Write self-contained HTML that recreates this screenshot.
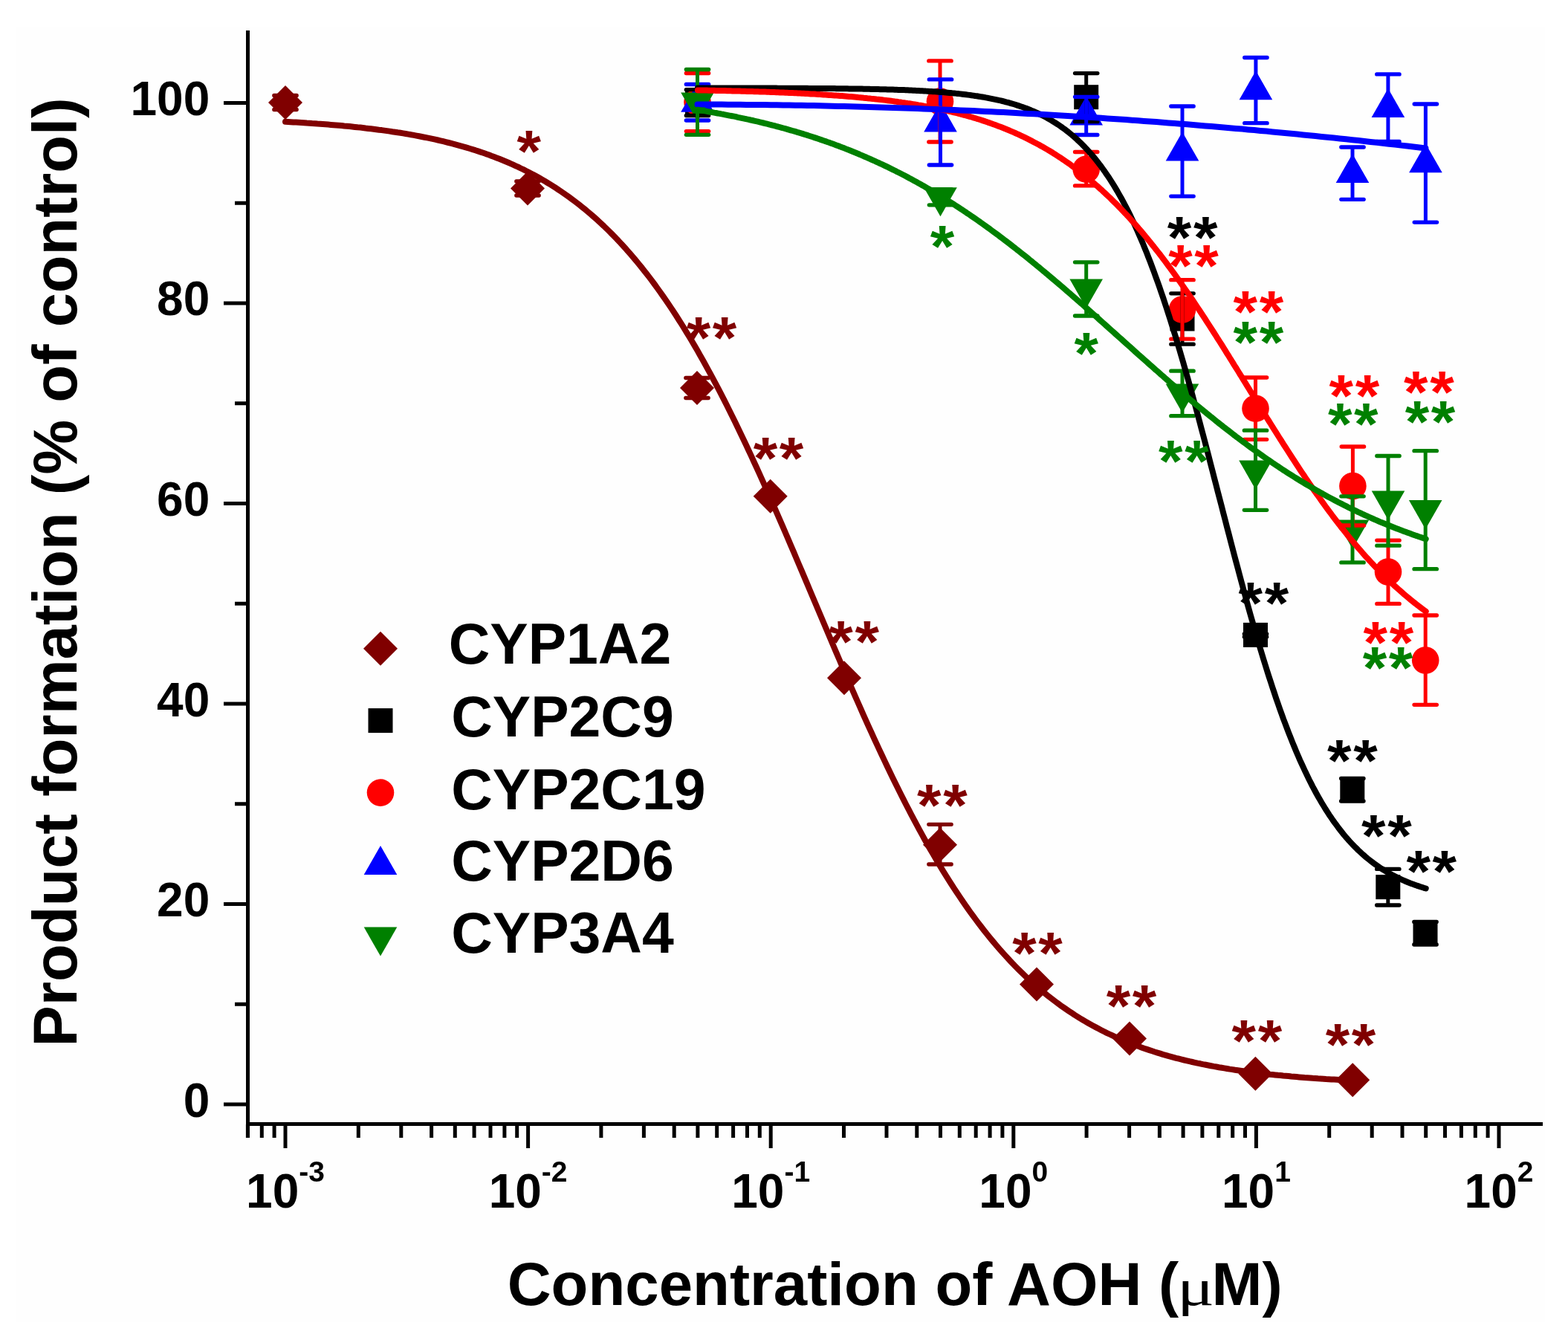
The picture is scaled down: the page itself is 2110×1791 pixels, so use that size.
<!DOCTYPE html><html><head><meta charset="utf-8"><style>html,body{margin:0;padding:0;background:#fff;}svg{display:block;}</style></head><body>
<svg width="2110" height="1791" viewBox="0 0 2110 1791" font-family='"Liberation Sans", Arial, sans-serif'>
<rect width="2110" height="1791" fill="#ffffff"/><rect x="21" y="37" width="2058" height="1742" fill="#fefefe"/>
<path d="M333.5 41V1531M331 1512.5H2076" stroke="#000" stroke-width="5" fill="none"/>
<path d="M301 1486.0H333M301 1216.5H333M301 947.0H333M301 677.4H333M301 407.9H333M301 138.4H333M316 1351.2H333M316 1081.7H333M316 812.2H333M316 542.7H333M316 273.2H333M384.0 1513V1545M482.3 1513V1531M539.8 1513V1531M580.6 1513V1531M612.3 1513V1531M638.1 1513V1531M660.0 1513V1531M678.9 1513V1531M695.7 1513V1531M710.6 1513V1545M808.9 1513V1531M866.4 1513V1531M907.2 1513V1531M938.9 1513V1531M964.7 1513V1531M986.6 1513V1531M1005.5 1513V1531M1022.3 1513V1531M1037.2 1513V1545M1135.5 1513V1531M1193.0 1513V1531M1233.8 1513V1531M1265.5 1513V1531M1291.3 1513V1531M1313.2 1513V1531M1332.1 1513V1531M1348.9 1513V1531M1363.8 1513V1545M1462.1 1513V1531M1519.6 1513V1531M1560.4 1513V1531M1592.1 1513V1531M1617.9 1513V1531M1639.8 1513V1531M1658.7 1513V1531M1675.5 1513V1531M1690.4 1513V1545M1788.7 1513V1531M1846.2 1513V1531M1887.0 1513V1531M1918.7 1513V1531M1944.5 1513V1531M1966.4 1513V1531M1985.3 1513V1531M2002.1 1513V1531M2017.0 1513V1545M333.4 1513V1531M352.3 1513V1531M369.1 1513V1531" stroke="#000" stroke-width="5" fill="none"/>
<text x="282.3" y="1502.5" font-size="64" font-weight="bold" text-anchor="end">0</text>
<text x="282.3" y="1233.0" font-size="64" font-weight="bold" text-anchor="end">20</text>
<text x="282.3" y="963.5" font-size="64" font-weight="bold" text-anchor="end">40</text>
<text x="282.3" y="693.9" font-size="64" font-weight="bold" text-anchor="end">60</text>
<text x="282.3" y="424.4" font-size="64" font-weight="bold" text-anchor="end">80</text>
<text x="282.3" y="154.9" font-size="64" font-weight="bold" text-anchor="end">100</text>
<text x="384.0" y="1625" font-size="64" font-weight="bold" text-anchor="middle">10<tspan font-size="39" dy="-35">-3</tspan></text>
<text x="710.6" y="1625" font-size="64" font-weight="bold" text-anchor="middle">10<tspan font-size="39" dy="-35">-2</tspan></text>
<text x="1037.2" y="1625" font-size="64" font-weight="bold" text-anchor="middle">10<tspan font-size="39" dy="-35">-1</tspan></text>
<text x="1363.8" y="1625" font-size="64" font-weight="bold" text-anchor="middle">10<tspan font-size="39" dy="-35">0</tspan></text>
<text x="1690.4" y="1625" font-size="64" font-weight="bold" text-anchor="middle">10<tspan font-size="39" dy="-35">1</tspan></text>
<text x="2017.0" y="1625" font-size="64" font-weight="bold" text-anchor="middle">10<tspan font-size="39" dy="-35">2</tspan></text>
<text transform="translate(103 1403) rotate(-90)" x="-5.6" y="0" font-size="83" font-weight="bold">Product formation (% of control)</text>
<text x="682.7" y="1756" font-size="81.6" font-weight="bold">Concentration of AOH (</text>
<text transform="translate(1584 1756) scale(1.14 0.86)" x="0" y="0" font-size="82" font-family='"Liberation Serif", serif'>μ</text>
<text x="1630.5" y="1756" font-size="81.6" font-weight="bold">M)</text>
<path d="M384.0 115.0L407.0 138.0L384.0 161.0L361.0 138.0Z" fill="#800000"/>
<path d="M710.0 230.5L733.0 253.5L710.0 276.5L687.0 253.5Z" fill="#800000"/>
<path d="M938.0 499.0L961.0 522.0L938.0 545.0L915.0 522.0Z" fill="#800000"/>
<path d="M1036.7 644.7L1059.7 667.7L1036.7 690.7L1013.7 667.7Z" fill="#800000"/>
<path d="M1136.0 889.2L1159.0 912.2L1136.0 935.2L1113.0 912.2Z" fill="#800000"/>
<path d="M1265.0 1113.8L1288.0 1136.8L1265.0 1159.8L1242.0 1136.8Z" fill="#800000"/>
<path d="M1395.0 1301.5L1418.0 1324.5L1395.0 1347.5L1372.0 1324.5Z" fill="#800000"/>
<path d="M1520.0 1374.6L1543.0 1397.6L1520.0 1420.6L1497.0 1397.6Z" fill="#800000"/>
<path d="M1689.4 1421.7L1712.4 1444.7L1689.4 1467.7L1666.4 1444.7Z" fill="#800000"/>
<path d="M1820.2 1430.2L1843.2 1453.2L1820.2 1476.2L1797.2 1453.2Z" fill="#800000"/>
<rect x="922.0" y="121.6" width="33.0" height="33.0" fill="#000000"/>
<rect x="1445.2" y="114.2" width="33.0" height="33.0" fill="#000000"/>
<rect x="1574.5" y="412.5" width="33.0" height="33.0" fill="#000000"/>
<rect x="1673.0" y="837.9" width="33.0" height="33.0" fill="#000000"/>
<rect x="1803.3" y="1046.4" width="33.0" height="33.0" fill="#000000"/>
<rect x="1851.3" y="1177.1" width="33.0" height="33.0" fill="#000000"/>
<rect x="1901.5" y="1239.2" width="33.0" height="33.0" fill="#000000"/>
<circle cx="938.5" cy="137.5" r="18.3" fill="#FF0000"/>
<circle cx="1265.0" cy="136.5" r="18.3" fill="#FF0000"/>
<circle cx="1461.7" cy="227.7" r="18.3" fill="#FF0000"/>
<circle cx="1591.0" cy="416.5" r="18.3" fill="#FF0000"/>
<circle cx="1689.5" cy="549.7" r="18.3" fill="#FF0000"/>
<circle cx="1820.4" cy="654.0" r="18.3" fill="#FF0000"/>
<circle cx="1868.0" cy="769.5" r="18.3" fill="#FF0000"/>
<circle cx="1918.2" cy="888.5" r="18.3" fill="#FF0000"/>
<path d="M938.5 111.8L960.8 150.8L916.2 150.8Z" fill="#0000FF"/>
<path d="M1265.5 138.4L1287.8 177.4L1243.2 177.4Z" fill="#0000FF"/>
<path d="M1461.7 129.6L1484.0 168.6L1439.4 168.6Z" fill="#0000FF"/>
<path d="M1591.0 177.5L1613.3 216.5L1568.7 216.5Z" fill="#0000FF"/>
<path d="M1689.9 95.2L1712.2 134.2L1667.6 134.2Z" fill="#0000FF"/>
<path d="M1820.0 207.0L1842.3 246.0L1797.7 246.0Z" fill="#0000FF"/>
<path d="M1867.9 119.0L1890.2 158.0L1845.6 158.0Z" fill="#0000FF"/>
<path d="M1918.4 193.2L1940.7 232.2L1896.1 232.2Z" fill="#0000FF"/>
<path d="M938.5 163.4L960.8 124.4L916.2 124.4Z" fill="#008000"/>
<path d="M1265.5 291.2L1287.8 252.2L1243.2 252.2Z" fill="#008000"/>
<path d="M1461.7 414.5L1484.0 375.5L1439.4 375.5Z" fill="#008000"/>
<path d="M1591.0 555.5L1613.3 516.5L1568.7 516.5Z" fill="#008000"/>
<path d="M1689.5 658.5L1711.8 619.5L1667.2 619.5Z" fill="#008000"/>
<path d="M1820.0 738.4L1842.3 699.4L1797.7 699.4Z" fill="#008000"/>
<path d="M1868.0 699.6L1890.3 660.6L1845.7 660.6Z" fill="#008000"/>
<path d="M1918.2 712.0L1940.5 673.0L1895.9 673.0Z" fill="#008000"/>
<path d="M384.0 128.5V147.5" stroke="#800000" stroke-width="5" fill="none"/><path d="M368.8 128.5H399.2M368.8 147.5H399.2" stroke="#800000" stroke-width="5.3" stroke-linecap="round" fill="none"/>
<path d="M710.0 244.0V263.0" stroke="#800000" stroke-width="5" fill="none"/><path d="M694.8 244.0H725.2M694.8 263.0H725.2" stroke="#800000" stroke-width="5.3" stroke-linecap="round" fill="none"/>
<path d="M938.0 508.5V535.5" stroke="#800000" stroke-width="5" fill="none"/><path d="M922.8 508.5H953.2M922.8 535.5H953.2" stroke="#800000" stroke-width="5.3" stroke-linecap="round" fill="none"/>


<path d="M1265.0 1109.3V1163.0" stroke="#800000" stroke-width="5" fill="none"/><path d="M1249.8 1109.3H1280.2M1249.8 1163.0H1280.2" stroke="#800000" stroke-width="5.3" stroke-linecap="round" fill="none"/>




<path d="M938.5 120.7V155.5" stroke="#000000" stroke-width="5" fill="none"/><path d="M923.3 120.7H953.7M923.3 155.5H953.7" stroke="#000000" stroke-width="5.3" stroke-linecap="round" fill="none"/>
<path d="M1461.7 98.6V163.7" stroke="#000000" stroke-width="5" fill="none"/><path d="M1446.5 98.6H1476.9M1446.5 163.7H1476.9" stroke="#000000" stroke-width="5.3" stroke-linecap="round" fill="none"/>
<path d="M1591.0 394.8V463.2" stroke="#000000" stroke-width="5" fill="none"/><path d="M1575.8 394.8H1606.2M1575.8 463.2H1606.2" stroke="#000000" stroke-width="5.3" stroke-linecap="round" fill="none"/>
<path d="M1689.5 853.0V857.0" stroke="#000000" stroke-width="5" fill="none"/><path d="M1674.3 853.0H1704.7M1674.3 857.0H1704.7" stroke="#000000" stroke-width="5.3" stroke-linecap="round" fill="none"/>
<path d="M1819.8 1047.5V1078.0" stroke="#000000" stroke-width="5" fill="none"/><path d="M1804.6 1047.5H1835.0M1804.6 1078.0H1835.0" stroke="#000000" stroke-width="5.3" stroke-linecap="round" fill="none"/>
<path d="M1867.8 1169.4V1218.0" stroke="#000000" stroke-width="5" fill="none"/><path d="M1852.6 1169.4H1883.0M1852.6 1218.0H1883.0" stroke="#000000" stroke-width="5.3" stroke-linecap="round" fill="none"/>
<path d="M1918.0 1240.5V1271.0" stroke="#000000" stroke-width="5" fill="none"/><path d="M1902.8 1240.5H1933.2M1902.8 1271.0H1933.2" stroke="#000000" stroke-width="5.3" stroke-linecap="round" fill="none"/>
<path d="M938.5 98.5V176.6" stroke="#FF0000" stroke-width="5" fill="none"/><path d="M923.3 98.5H953.7M923.3 176.6H953.7" stroke="#FF0000" stroke-width="5.3" stroke-linecap="round" fill="none"/>
<path d="M1265.0 81.9V191.0" stroke="#FF0000" stroke-width="5" fill="none"/><path d="M1249.8 81.9H1280.2M1249.8 191.0H1280.2" stroke="#FF0000" stroke-width="5.3" stroke-linecap="round" fill="none"/>
<path d="M1461.7 204.5V249.9" stroke="#FF0000" stroke-width="5" fill="none"/><path d="M1446.5 204.5H1476.9M1446.5 249.9H1476.9" stroke="#FF0000" stroke-width="5.3" stroke-linecap="round" fill="none"/>
<path d="M1591.0 376.7V456.2" stroke="#FF0000" stroke-width="5" fill="none"/><path d="M1575.8 376.7H1606.2M1575.8 456.2H1606.2" stroke="#FF0000" stroke-width="5.3" stroke-linecap="round" fill="none"/>
<path d="M1689.5 508.0V591.3" stroke="#FF0000" stroke-width="5" fill="none"/><path d="M1674.3 508.0H1704.7M1674.3 591.3H1704.7" stroke="#FF0000" stroke-width="5.3" stroke-linecap="round" fill="none"/>
<path d="M1820.4 601.0V707.0" stroke="#FF0000" stroke-width="5" fill="none"/><path d="M1805.2 601.0H1835.6M1805.2 707.0H1835.6" stroke="#FF0000" stroke-width="5.3" stroke-linecap="round" fill="none"/>
<path d="M1868.0 727.1V812.4" stroke="#FF0000" stroke-width="5" fill="none"/><path d="M1852.8 727.1H1883.2M1852.8 812.4H1883.2" stroke="#FF0000" stroke-width="5.3" stroke-linecap="round" fill="none"/>
<path d="M1918.2 828.0V948.3" stroke="#FF0000" stroke-width="5" fill="none"/><path d="M1903.0 828.0H1933.4M1903.0 948.3H1933.4" stroke="#FF0000" stroke-width="5.3" stroke-linecap="round" fill="none"/>
<path d="M938.5 113.5V162.0" stroke="#0000FF" stroke-width="5" fill="none"/><path d="M923.3 113.5H953.7M923.3 162.0H953.7" stroke="#0000FF" stroke-width="5.3" stroke-linecap="round" fill="none"/>
<path d="M1265.5 106.9V222.0" stroke="#0000FF" stroke-width="5" fill="none"/><path d="M1250.3 106.9H1280.7M1250.3 222.0H1280.7" stroke="#0000FF" stroke-width="5.3" stroke-linecap="round" fill="none"/>
<path d="M1461.7 130.3V181.5" stroke="#0000FF" stroke-width="5" fill="none"/><path d="M1446.5 130.3H1476.9M1446.5 181.5H1476.9" stroke="#0000FF" stroke-width="5.3" stroke-linecap="round" fill="none"/>
<path d="M1591.0 143.0V264.1" stroke="#0000FF" stroke-width="5" fill="none"/><path d="M1575.8 143.0H1606.2M1575.8 264.1H1606.2" stroke="#0000FF" stroke-width="5.3" stroke-linecap="round" fill="none"/>
<path d="M1689.9 77.5V165.7" stroke="#0000FF" stroke-width="5" fill="none"/><path d="M1674.7 77.5H1705.1M1674.7 165.7H1705.1" stroke="#0000FF" stroke-width="5.3" stroke-linecap="round" fill="none"/>
<path d="M1820.0 198.0V268.3" stroke="#0000FF" stroke-width="5" fill="none"/><path d="M1804.8 198.0H1835.2M1804.8 268.3H1835.2" stroke="#0000FF" stroke-width="5.3" stroke-linecap="round" fill="none"/>
<path d="M1867.9 99.9V190.5" stroke="#0000FF" stroke-width="5" fill="none"/><path d="M1852.7 99.9H1883.1M1852.7 190.5H1883.1" stroke="#0000FF" stroke-width="5.3" stroke-linecap="round" fill="none"/>
<path d="M1918.4 140.0V299.1" stroke="#0000FF" stroke-width="5" fill="none"/><path d="M1903.2 140.0H1933.6M1903.2 299.1H1933.6" stroke="#0000FF" stroke-width="5.3" stroke-linecap="round" fill="none"/>
<path d="M938.5 93.5V181.3" stroke="#008000" stroke-width="5" fill="none"/><path d="M923.3 93.5H953.7M923.3 181.3H953.7" stroke="#008000" stroke-width="5.3" stroke-linecap="round" fill="none"/>
<path d="M1265.5 254.6V275.8" stroke="#008000" stroke-width="5" fill="none"/><path d="M1250.3 254.6H1280.7M1250.3 275.8H1280.7" stroke="#008000" stroke-width="5.3" stroke-linecap="round" fill="none"/>
<path d="M1461.7 352.8V425.0" stroke="#008000" stroke-width="5" fill="none"/><path d="M1446.5 352.8H1476.9M1446.5 425.0H1476.9" stroke="#008000" stroke-width="5.3" stroke-linecap="round" fill="none"/>
<path d="M1591.0 499.2V559.7" stroke="#008000" stroke-width="5" fill="none"/><path d="M1575.8 499.2H1606.2M1575.8 559.7H1606.2" stroke="#008000" stroke-width="5.3" stroke-linecap="round" fill="none"/>
<path d="M1689.5 579.2V686.3" stroke="#008000" stroke-width="5" fill="none"/><path d="M1674.3 579.2H1704.7M1674.3 686.3H1704.7" stroke="#008000" stroke-width="5.3" stroke-linecap="round" fill="none"/>
<path d="M1820.0 667.8V756.9" stroke="#008000" stroke-width="5" fill="none"/><path d="M1804.8 667.8H1835.2M1804.8 756.9H1835.2" stroke="#008000" stroke-width="5.3" stroke-linecap="round" fill="none"/>
<path d="M1868.0 613.5V734.2" stroke="#008000" stroke-width="5" fill="none"/><path d="M1852.8 613.5H1883.2M1852.8 734.2H1883.2" stroke="#008000" stroke-width="5.3" stroke-linecap="round" fill="none"/>
<path d="M1918.2 606.7V765.7" stroke="#008000" stroke-width="5" fill="none"/><path d="M1903.0 606.7H1933.4M1903.0 765.7H1933.4" stroke="#008000" stroke-width="5.3" stroke-linecap="round" fill="none"/>
<path d="M384.0 163.8 L387.6 164.0 L391.2 164.2 L394.8 164.4 L398.4 164.6 L402.0 164.8 L405.6 165.0 L409.2 165.2 L412.8 165.5 L416.4 165.7 L420.0 166.0 L423.6 166.2 L427.2 166.5 L430.8 166.7 L434.4 167.0 L438.0 167.3 L441.6 167.6 L445.2 167.9 L448.8 168.2 L452.4 168.5 L456.0 168.8 L459.6 169.1 L463.2 169.5 L466.8 169.8 L470.4 170.1 L474.0 170.5 L477.6 170.9 L481.2 171.3 L484.8 171.6 L488.4 172.0 L492.0 172.5 L495.6 172.9 L499.2 173.3 L502.8 173.7 L506.4 174.2 L510.0 174.7 L513.6 175.1 L517.2 175.6 L520.8 176.1 L524.4 176.6 L528.0 177.2 L531.6 177.7 L535.2 178.3 L538.8 178.8 L542.4 179.4 L546.0 180.0 L549.6 180.6 L553.2 181.3 L556.8 181.9 L560.4 182.6 L564.0 183.3 L567.6 184.0 L571.2 184.7 L574.8 185.4 L578.4 186.1 L582.0 186.9 L585.6 187.7 L589.2 188.5 L592.8 189.3 L596.4 190.2 L600.0 191.1 L603.6 192.0 L607.2 192.9 L610.8 193.8 L614.4 194.8 L618.0 195.8 L621.6 196.8 L625.2 197.8 L628.8 198.9 L632.4 200.0 L636.0 201.1 L639.6 202.2 L643.2 203.4 L646.8 204.6 L650.4 205.8 L654.0 207.1 L657.6 208.3 L661.2 209.7 L664.8 211.0 L668.4 212.4 L672.0 213.8 L675.6 215.3 L679.2 216.8 L682.8 218.3 L686.4 219.8 L690.0 221.4 L693.6 223.1 L697.2 224.7 L700.8 226.5 L704.4 228.2 L708.0 230.0 L711.6 231.8 L715.2 233.7 L718.8 235.6 L722.4 237.6 L726.0 239.6 L729.6 241.7 L733.2 243.8 L736.8 246.0 L740.4 248.2 L744.0 250.4 L747.6 252.7 L751.2 255.1 L754.8 257.5 L758.4 260.0 L762.0 262.5 L765.6 265.1 L769.2 267.7 L772.8 270.4 L776.4 273.1 L780.0 275.9 L783.6 278.8 L787.2 281.7 L790.8 284.7 L794.4 287.8 L798.0 290.9 L801.6 294.1 L805.2 297.3 L808.8 300.7 L812.4 304.0 L816.0 307.5 L819.6 311.0 L823.2 314.6 L826.8 318.3 L830.4 322.0 L834.0 325.9 L837.6 329.8 L841.2 333.7 L844.8 337.8 L848.4 341.9 L852.0 346.1 L855.6 350.4 L859.2 354.7 L862.8 359.1 L866.4 363.7 L870.0 368.3 L873.6 372.9 L877.2 377.7 L880.8 382.5 L884.4 387.5 L888.0 392.5 L891.6 397.6 L895.2 402.8 L898.8 408.0 L902.4 413.4 L906.0 418.8 L909.6 424.3 L913.2 430.0 L916.8 435.6 L920.4 441.4 L924.0 447.3 L927.6 453.2 L931.2 459.3 L934.8 465.4 L938.4 471.6 L942.0 477.9 L945.6 484.3 L949.2 490.7 L952.8 497.3 L956.4 503.9 L960.0 510.6 L963.6 517.4 L967.2 524.2 L970.8 531.2 L974.4 538.2 L978.0 545.3 L981.6 552.5 L985.2 559.7 L988.8 567.0 L992.4 574.4 L996.0 581.9 L999.6 589.4 L1003.2 597.0 L1006.8 604.7 L1010.4 612.4 L1014.0 620.2 L1017.6 628.0 L1021.2 635.9 L1024.8 643.9 L1028.4 651.9 L1032.0 659.9 L1035.6 668.0 L1039.2 676.2 L1042.8 684.4 L1046.4 692.6 L1050.0 700.9 L1053.6 709.2 L1057.2 717.5 L1060.8 725.9 L1064.4 734.3 L1068.0 742.7 L1071.6 751.2 L1075.2 759.7 L1078.8 768.1 L1082.4 776.6 L1086.0 785.1 L1089.6 793.7 L1093.2 802.2 L1096.8 810.7 L1100.4 819.2 L1104.0 827.8 L1107.6 836.3 L1111.2 844.8 L1114.8 853.3 L1118.4 861.7 L1122.0 870.2 L1125.6 878.6 L1129.2 887.0 L1132.8 895.4 L1136.4 903.8 L1140.0 912.1 L1143.6 920.4 L1147.2 928.7 L1150.8 936.9 L1154.4 945.0 L1158.0 953.2 L1161.6 961.3 L1165.2 969.3 L1168.8 977.3 L1172.4 985.2 L1176.0 993.1 L1179.6 1000.9 L1183.2 1008.6 L1186.8 1016.3 L1190.4 1023.9 L1194.0 1031.5 L1197.6 1039.0 L1201.2 1046.4 L1204.8 1053.8 L1208.4 1061.1 L1212.0 1068.3 L1215.6 1075.4 L1219.2 1082.5 L1222.8 1089.4 L1226.4 1096.3 L1230.0 1103.2 L1233.6 1109.9 L1237.2 1116.6 L1240.8 1123.2 L1244.4 1129.7 L1248.0 1136.1 L1251.6 1142.4 L1255.2 1148.6 L1258.8 1154.8 L1262.4 1160.9 L1266.0 1166.9 L1269.6 1172.8 L1273.2 1178.6 L1276.8 1184.4 L1280.4 1190.0 L1284.0 1195.6 L1287.6 1201.0 L1291.2 1206.4 L1294.8 1211.7 L1298.4 1217.0 L1302.0 1222.1 L1305.6 1227.2 L1309.2 1232.1 L1312.8 1237.0 L1316.4 1241.8 L1320.0 1246.5 L1323.6 1251.2 L1327.2 1255.7 L1330.8 1260.2 L1334.4 1264.6 L1338.0 1268.9 L1341.6 1273.2 L1345.2 1277.3 L1348.8 1281.4 L1352.4 1285.4 L1356.0 1289.3 L1359.6 1293.2 L1363.2 1297.0 L1366.8 1300.7 L1370.4 1304.3 L1374.0 1307.9 L1377.6 1311.4 L1381.2 1314.8 L1384.8 1318.1 L1388.4 1321.4 L1392.0 1324.6 L1395.6 1327.8 L1399.2 1330.9 L1402.8 1333.9 L1406.4 1336.9 L1410.0 1339.8 L1413.6 1342.6 L1417.2 1345.4 L1420.8 1348.1 L1424.4 1350.8 L1428.0 1353.4 L1431.6 1355.9 L1435.2 1358.4 L1438.8 1360.8 L1442.4 1363.2 L1446.0 1365.6 L1449.6 1367.8 L1453.2 1370.1 L1456.8 1372.2 L1460.4 1374.4 L1464.0 1376.5 L1467.6 1378.5 L1471.2 1380.5 L1474.8 1382.4 L1478.4 1384.3 L1482.0 1386.2 L1485.6 1388.0 L1489.2 1389.8 L1492.8 1391.5 L1496.4 1393.2 L1500.0 1394.9 L1503.6 1396.5 L1507.2 1398.1 L1510.8 1399.6 L1514.4 1401.1 L1518.0 1402.6 L1521.6 1404.0 L1525.2 1405.4 L1528.8 1406.8 L1532.4 1408.1 L1536.0 1409.4 L1539.6 1410.7 L1543.2 1411.9 L1546.8 1413.1 L1550.4 1414.3 L1554.0 1415.5 L1557.6 1416.6 L1561.2 1417.7 L1564.8 1418.8 L1568.4 1419.8 L1572.0 1420.9 L1575.6 1421.8 L1579.2 1422.8 L1582.8 1423.8 L1586.4 1424.7 L1590.0 1425.6 L1593.6 1426.5 L1597.2 1427.3 L1600.8 1428.2 L1604.4 1429.0 L1608.0 1429.8 L1611.6 1430.6 L1615.2 1431.3 L1618.8 1432.1 L1622.4 1432.8 L1626.0 1433.5 L1629.6 1434.2 L1633.2 1434.9 L1636.8 1435.5 L1640.4 1436.2 L1644.0 1436.8 L1647.6 1437.4 L1651.2 1438.0 L1654.8 1438.6 L1658.4 1439.1 L1662.0 1439.7 L1665.6 1440.2 L1669.2 1440.7 L1672.8 1441.2 L1676.4 1441.7 L1680.0 1442.2 L1683.6 1442.7 L1687.2 1443.1 L1690.8 1443.6 L1694.4 1444.0 L1698.0 1444.4 L1701.6 1444.9 L1705.2 1445.3 L1708.8 1445.7 L1712.4 1446.0 L1716.0 1446.4 L1719.6 1446.8 L1723.2 1447.1 L1726.8 1447.5 L1730.4 1447.8 L1734.0 1448.1 L1737.6 1448.5 L1741.2 1448.8 L1744.8 1449.1 L1748.4 1449.4 L1752.0 1449.7 L1755.6 1450.0 L1759.2 1450.2 L1762.8 1450.5 L1766.4 1450.8 L1770.0 1451.0 L1773.6 1451.3 L1777.2 1451.5 L1780.8 1451.7 L1784.4 1452.0 L1788.0 1452.2 L1791.6 1452.4 L1795.2 1452.6 L1798.8 1452.8 L1802.4 1453.0 L1806.0 1453.2 L1809.6 1453.4 L1813.2 1453.6 L1816.8 1453.8 L1820.4 1454.0" stroke="#800000" stroke-width="8" fill="none" stroke-linejoin="round" stroke-linecap="round"/>
<path d="M938.9 118.5 L941.3 118.5 L943.8 118.5 L946.3 118.5 L948.7 118.5 L951.2 118.5 L953.6 118.5 L956.1 118.5 L958.5 118.5 L961.0 118.5 L963.4 118.5 L965.9 118.5 L968.4 118.5 L970.8 118.5 L973.3 118.5 L975.7 118.5 L978.2 118.5 L980.6 118.5 L983.1 118.5 L985.5 118.5 L988.0 118.5 L990.5 118.5 L992.9 118.5 L995.4 118.5 L997.8 118.5 L1000.3 118.5 L1002.7 118.5 L1005.2 118.5 L1007.6 118.5 L1010.1 118.6 L1012.6 118.6 L1015.0 118.6 L1017.5 118.6 L1019.9 118.6 L1022.4 118.6 L1024.8 118.6 L1027.3 118.6 L1029.7 118.6 L1032.2 118.6 L1034.7 118.6 L1037.1 118.6 L1039.6 118.6 L1042.0 118.6 L1044.5 118.6 L1046.9 118.7 L1049.4 118.7 L1051.8 118.7 L1054.3 118.7 L1056.8 118.7 L1059.2 118.7 L1061.7 118.7 L1064.1 118.7 L1066.6 118.7 L1069.0 118.7 L1071.5 118.8 L1073.9 118.8 L1076.4 118.8 L1078.9 118.8 L1081.3 118.8 L1083.8 118.8 L1086.2 118.8 L1088.7 118.9 L1091.1 118.9 L1093.6 118.9 L1096.0 118.9 L1098.5 118.9 L1101.0 118.9 L1103.4 119.0 L1105.9 119.0 L1108.3 119.0 L1110.8 119.0 L1113.2 119.0 L1115.7 119.1 L1118.1 119.1 L1120.6 119.1 L1123.1 119.1 L1125.5 119.2 L1128.0 119.2 L1130.4 119.2 L1132.9 119.2 L1135.3 119.3 L1137.8 119.3 L1140.2 119.3 L1142.7 119.4 L1145.2 119.4 L1147.6 119.4 L1150.1 119.5 L1152.5 119.5 L1155.0 119.6 L1157.4 119.6 L1159.9 119.6 L1162.3 119.7 L1164.8 119.7 L1167.3 119.8 L1169.7 119.8 L1172.2 119.9 L1174.6 119.9 L1177.1 120.0 L1179.5 120.0 L1182.0 120.1 L1184.4 120.2 L1186.9 120.2 L1189.4 120.3 L1191.8 120.3 L1194.3 120.4 L1196.7 120.5 L1199.2 120.6 L1201.6 120.6 L1204.1 120.7 L1206.5 120.8 L1209.0 120.9 L1211.5 121.0 L1213.9 121.1 L1216.4 121.1 L1218.8 121.2 L1221.3 121.3 L1223.7 121.5 L1226.2 121.6 L1228.6 121.7 L1231.1 121.8 L1233.6 121.9 L1236.0 122.0 L1238.5 122.2 L1240.9 122.3 L1243.4 122.4 L1245.8 122.6 L1248.3 122.7 L1250.7 122.9 L1253.2 123.0 L1255.7 123.2 L1258.1 123.3 L1260.6 123.5 L1263.0 123.7 L1265.5 123.9 L1267.9 124.1 L1270.4 124.3 L1272.9 124.5 L1275.3 124.7 L1277.8 124.9 L1280.2 125.1 L1282.7 125.4 L1285.1 125.6 L1287.6 125.9 L1290.0 126.1 L1292.5 126.4 L1295.0 126.7 L1297.4 127.0 L1299.9 127.3 L1302.3 127.6 L1304.8 127.9 L1307.2 128.3 L1309.7 128.6 L1312.1 129.0 L1314.6 129.3 L1317.1 129.7 L1319.5 130.1 L1322.0 130.5 L1324.4 130.9 L1326.9 131.4 L1329.3 131.8 L1331.8 132.3 L1334.2 132.8 L1336.7 133.3 L1339.2 133.8 L1341.6 134.3 L1344.1 134.9 L1346.5 135.4 L1349.0 136.0 L1351.4 136.6 L1353.9 137.3 L1356.3 137.9 L1358.8 138.6 L1361.3 139.3 L1363.7 140.0 L1366.2 140.8 L1368.6 141.6 L1371.1 142.4 L1373.5 143.2 L1376.0 144.0 L1378.4 144.9 L1380.9 145.8 L1383.4 146.8 L1385.8 147.7 L1388.3 148.8 L1390.7 149.8 L1393.2 150.9 L1395.6 152.0 L1398.1 153.1 L1400.5 154.3 L1403.0 155.5 L1405.5 156.8 L1407.9 158.1 L1410.4 159.5 L1412.8 160.9 L1415.3 162.3 L1417.7 163.8 L1420.2 165.3 L1422.6 166.9 L1425.1 168.5 L1427.6 170.2 L1430.0 172.0 L1432.5 173.7 L1434.9 175.6 L1437.4 177.5 L1439.8 179.5 L1442.3 181.5 L1444.7 183.6 L1447.2 185.8 L1449.7 188.0 L1452.1 190.3 L1454.6 192.7 L1457.0 195.1 L1459.5 197.6 L1461.9 200.2 L1464.4 202.9 L1466.8 205.6 L1469.3 208.4 L1471.8 211.3 L1474.2 214.3 L1476.7 217.4 L1479.1 220.6 L1481.6 223.8 L1484.0 227.2 L1486.5 230.6 L1488.9 234.2 L1491.4 237.8 L1493.9 241.6 L1496.3 245.4 L1498.8 249.4 L1501.2 253.4 L1503.7 257.6 L1506.1 261.9 L1508.6 266.2 L1511.0 270.7 L1513.5 275.3 L1516.0 280.1 L1518.4 284.9 L1520.9 289.9 L1523.3 294.9 L1525.8 300.1 L1528.2 305.5 L1530.7 310.9 L1533.1 316.5 L1535.6 322.2 L1538.1 328.0 L1540.5 333.9 L1543.0 340.0 L1545.4 346.2 L1547.9 352.5 L1550.3 359.0 L1552.8 365.6 L1555.2 372.3 L1557.7 379.1 L1560.2 386.1 L1562.6 393.2 L1565.1 400.4 L1567.5 407.7 L1570.0 415.2 L1572.4 422.7 L1574.9 430.4 L1577.3 438.2 L1579.8 446.2 L1582.3 454.2 L1584.7 462.3 L1587.2 470.6 L1589.6 478.9 L1592.1 487.4 L1594.5 495.9 L1597.0 504.6 L1599.5 513.3 L1601.9 522.1 L1604.4 531.0 L1606.8 540.0 L1609.3 549.0 L1611.7 558.1 L1614.2 567.3 L1616.6 576.6 L1619.1 585.8 L1621.6 595.2 L1624.0 604.6 L1626.5 614.0 L1628.9 623.4 L1631.4 632.9 L1633.8 642.4 L1636.3 651.9 L1638.7 661.4 L1641.2 670.9 L1643.7 680.5 L1646.1 690.0 L1648.6 699.5 L1651.0 709.0 L1653.5 718.4 L1655.9 727.8 L1658.4 737.2 L1660.8 746.6 L1663.3 755.9 L1665.8 765.1 L1668.2 774.3 L1670.7 783.5 L1673.1 792.5 L1675.6 801.5 L1678.0 810.4 L1680.5 819.3 L1682.9 828.0 L1685.4 836.7 L1687.9 845.3 L1690.3 853.8 L1692.8 862.1 L1695.2 870.4 L1697.7 878.6 L1700.1 886.6 L1702.6 894.6 L1705.0 902.4 L1707.5 910.2 L1710.0 917.8 L1712.4 925.2 L1714.9 932.6 L1717.3 939.9 L1719.8 947.0 L1722.2 954.0 L1724.7 960.8 L1727.1 967.6 L1729.6 974.2 L1732.1 980.7 L1734.5 987.1 L1737.0 993.3 L1739.4 999.4 L1741.9 1005.4 L1744.3 1011.2 L1746.8 1017.0 L1749.2 1022.6 L1751.7 1028.0 L1754.2 1033.4 L1756.6 1038.6 L1759.1 1043.7 L1761.5 1048.7 L1764.0 1053.6 L1766.4 1058.4 L1768.9 1063.0 L1771.3 1067.5 L1773.8 1072.0 L1776.3 1076.3 L1778.7 1080.4 L1781.2 1084.5 L1783.6 1088.5 L1786.1 1092.4 L1788.5 1096.2 L1791.0 1099.8 L1793.4 1103.4 L1795.9 1106.9 L1798.4 1110.2 L1800.8 1113.5 L1803.3 1116.7 L1805.7 1119.8 L1808.2 1122.9 L1810.6 1125.8 L1813.1 1128.6 L1815.5 1131.4 L1818.0 1134.1 L1820.5 1136.7 L1822.9 1139.2 L1825.4 1141.7 L1827.8 1144.1 L1830.3 1146.4 L1832.7 1148.6 L1835.2 1150.8 L1837.6 1152.9 L1840.1 1155.0 L1842.6 1157.0 L1845.0 1158.9 L1847.5 1160.8 L1849.9 1162.6 L1852.4 1164.3 L1854.8 1166.0 L1857.3 1167.7 L1859.7 1169.3 L1862.2 1170.8 L1864.7 1172.3 L1867.1 1173.8 L1869.6 1175.2 L1872.0 1176.5 L1874.5 1177.9 L1876.9 1179.1 L1879.4 1180.4 L1881.8 1181.6 L1884.3 1182.7 L1886.8 1183.8 L1889.2 1184.9 L1891.7 1186.0 L1894.1 1187.0 L1896.6 1188.0 L1899.0 1188.9 L1901.5 1189.8 L1903.9 1190.7 L1906.4 1191.6 L1908.9 1192.4 L1911.3 1193.2 L1913.8 1194.0 L1916.2 1194.8 L1918.7 1195.5" stroke="#000000" stroke-width="8" fill="none" stroke-linejoin="round" stroke-linecap="round"/>
<path d="M938.9 121.4 L941.3 121.5 L943.8 121.5 L946.3 121.6 L948.7 121.6 L951.2 121.6 L953.6 121.7 L956.1 121.7 L958.5 121.8 L961.0 121.8 L963.4 121.9 L965.9 121.9 L968.4 122.0 L970.8 122.0 L973.3 122.1 L975.7 122.1 L978.2 122.2 L980.6 122.3 L983.1 122.3 L985.5 122.4 L988.0 122.4 L990.5 122.5 L992.9 122.6 L995.4 122.6 L997.8 122.7 L1000.3 122.7 L1002.7 122.8 L1005.2 122.9 L1007.6 123.0 L1010.1 123.0 L1012.6 123.1 L1015.0 123.2 L1017.5 123.2 L1019.9 123.3 L1022.4 123.4 L1024.8 123.5 L1027.3 123.6 L1029.7 123.6 L1032.2 123.7 L1034.7 123.8 L1037.1 123.9 L1039.6 124.0 L1042.0 124.1 L1044.5 124.2 L1046.9 124.3 L1049.4 124.4 L1051.8 124.5 L1054.3 124.6 L1056.8 124.7 L1059.2 124.8 L1061.7 124.9 L1064.1 125.0 L1066.6 125.1 L1069.0 125.2 L1071.5 125.3 L1073.9 125.5 L1076.4 125.6 L1078.9 125.7 L1081.3 125.8 L1083.8 126.0 L1086.2 126.1 L1088.7 126.2 L1091.1 126.4 L1093.6 126.5 L1096.0 126.6 L1098.5 126.8 L1101.0 126.9 L1103.4 127.1 L1105.9 127.2 L1108.3 127.4 L1110.8 127.5 L1113.2 127.7 L1115.7 127.9 L1118.1 128.0 L1120.6 128.2 L1123.1 128.4 L1125.5 128.6 L1128.0 128.7 L1130.4 128.9 L1132.9 129.1 L1135.3 129.3 L1137.8 129.5 L1140.2 129.7 L1142.7 129.9 L1145.2 130.1 L1147.6 130.3 L1150.1 130.5 L1152.5 130.7 L1155.0 131.0 L1157.4 131.2 L1159.9 131.4 L1162.3 131.7 L1164.8 131.9 L1167.3 132.2 L1169.7 132.4 L1172.2 132.7 L1174.6 132.9 L1177.1 133.2 L1179.5 133.5 L1182.0 133.7 L1184.4 134.0 L1186.9 134.3 L1189.4 134.6 L1191.8 134.9 L1194.3 135.2 L1196.7 135.5 L1199.2 135.8 L1201.6 136.1 L1204.1 136.5 L1206.5 136.8 L1209.0 137.2 L1211.5 137.5 L1213.9 137.9 L1216.4 138.2 L1218.8 138.6 L1221.3 139.0 L1223.7 139.3 L1226.2 139.7 L1228.6 140.1 L1231.1 140.5 L1233.6 140.9 L1236.0 141.4 L1238.5 141.8 L1240.9 142.2 L1243.4 142.7 L1245.8 143.1 L1248.3 143.6 L1250.7 144.0 L1253.2 144.5 L1255.7 145.0 L1258.1 145.5 L1260.6 146.0 L1263.0 146.5 L1265.5 147.0 L1267.9 147.6 L1270.4 148.1 L1272.9 148.7 L1275.3 149.2 L1277.8 149.8 L1280.2 150.4 L1282.7 151.0 L1285.1 151.6 L1287.6 152.2 L1290.0 152.8 L1292.5 153.5 L1295.0 154.1 L1297.4 154.8 L1299.9 155.4 L1302.3 156.1 L1304.8 156.8 L1307.2 157.5 L1309.7 158.3 L1312.1 159.0 L1314.6 159.8 L1317.1 160.5 L1319.5 161.3 L1322.0 162.1 L1324.4 162.9 L1326.9 163.7 L1329.3 164.6 L1331.8 165.4 L1334.2 166.3 L1336.7 167.2 L1339.2 168.1 L1341.6 169.0 L1344.1 169.9 L1346.5 170.8 L1349.0 171.8 L1351.4 172.8 L1353.9 173.8 L1356.3 174.8 L1358.8 175.8 L1361.3 176.9 L1363.7 177.9 L1366.2 179.0 L1368.6 180.1 L1371.1 181.2 L1373.5 182.4 L1376.0 183.5 L1378.4 184.7 L1380.9 185.9 L1383.4 187.1 L1385.8 188.3 L1388.3 189.6 L1390.7 190.9 L1393.2 192.2 L1395.6 193.5 L1398.1 194.8 L1400.5 196.2 L1403.0 197.6 L1405.5 199.0 L1407.9 200.4 L1410.4 201.9 L1412.8 203.3 L1415.3 204.8 L1417.7 206.3 L1420.2 207.9 L1422.6 209.5 L1425.1 211.1 L1427.6 212.7 L1430.0 214.3 L1432.5 216.0 L1434.9 217.7 L1437.4 219.4 L1439.8 221.1 L1442.3 222.9 L1444.7 224.7 L1447.2 226.5 L1449.7 228.4 L1452.1 230.3 L1454.6 232.2 L1457.0 234.1 L1459.5 236.0 L1461.9 238.0 L1464.4 240.0 L1466.8 242.1 L1469.3 244.2 L1471.8 246.3 L1474.2 248.4 L1476.7 250.5 L1479.1 252.7 L1481.6 254.9 L1484.0 257.2 L1486.5 259.4 L1488.9 261.8 L1491.4 264.1 L1493.9 266.4 L1496.3 268.8 L1498.8 271.3 L1501.2 273.7 L1503.7 276.2 L1506.1 278.7 L1508.6 281.2 L1511.0 283.8 L1513.5 286.4 L1516.0 289.0 L1518.4 291.7 L1520.9 294.4 L1523.3 297.1 L1525.8 299.9 L1528.2 302.7 L1530.7 305.5 L1533.1 308.3 L1535.6 311.2 L1538.1 314.1 L1540.5 317.0 L1543.0 320.0 L1545.4 323.0 L1547.9 326.0 L1550.3 329.1 L1552.8 332.1 L1555.2 335.2 L1557.7 338.4 L1560.2 341.5 L1562.6 344.7 L1565.1 348.0 L1567.5 351.2 L1570.0 354.5 L1572.4 357.8 L1574.9 361.1 L1577.3 364.5 L1579.8 367.9 L1582.3 371.3 L1584.7 374.7 L1587.2 378.2 L1589.6 381.7 L1592.1 385.2 L1594.5 388.7 L1597.0 392.3 L1599.5 395.8 L1601.9 399.4 L1604.4 403.1 L1606.8 406.7 L1609.3 410.4 L1611.7 414.1 L1614.2 417.8 L1616.6 421.5 L1619.1 425.2 L1621.6 429.0 L1624.0 432.8 L1626.5 436.6 L1628.9 440.4 L1631.4 444.2 L1633.8 448.0 L1636.3 451.9 L1638.7 455.8 L1641.2 459.6 L1643.7 463.5 L1646.1 467.4 L1648.6 471.4 L1651.0 475.3 L1653.5 479.2 L1655.9 483.2 L1658.4 487.1 L1660.8 491.1 L1663.3 495.0 L1665.8 499.0 L1668.2 503.0 L1670.7 506.9 L1673.1 510.9 L1675.6 514.9 L1678.0 518.9 L1680.5 522.9 L1682.9 526.9 L1685.4 530.8 L1687.9 534.8 L1690.3 538.8 L1692.8 542.8 L1695.2 546.8 L1697.7 550.7 L1700.1 554.7 L1702.6 558.6 L1705.0 562.6 L1707.5 566.5 L1710.0 570.5 L1712.4 574.4 L1714.9 578.3 L1717.3 582.2 L1719.8 586.1 L1722.2 590.0 L1724.7 593.8 L1727.1 597.7 L1729.6 601.5 L1732.1 605.4 L1734.5 609.2 L1737.0 613.0 L1739.4 616.7 L1741.9 620.5 L1744.3 624.2 L1746.8 628.0 L1749.2 631.7 L1751.7 635.4 L1754.2 639.0 L1756.6 642.7 L1759.1 646.3 L1761.5 649.9 L1764.0 653.5 L1766.4 657.0 L1768.9 660.6 L1771.3 664.1 L1773.8 667.5 L1776.3 671.0 L1778.7 674.4 L1781.2 677.8 L1783.6 681.2 L1786.1 684.6 L1788.5 687.9 L1791.0 691.2 L1793.4 694.5 L1795.9 697.7 L1798.4 701.0 L1800.8 704.2 L1803.3 707.3 L1805.7 710.5 L1808.2 713.6 L1810.6 716.6 L1813.1 719.7 L1815.5 722.7 L1818.0 725.7 L1820.5 728.7 L1822.9 731.6 L1825.4 734.5 L1827.8 737.4 L1830.3 740.2 L1832.7 743.0 L1835.2 745.8 L1837.6 748.6 L1840.1 751.3 L1842.6 754.0 L1845.0 756.6 L1847.5 759.3 L1849.9 761.9 L1852.4 764.4 L1854.8 767.0 L1857.3 769.5 L1859.7 772.0 L1862.2 774.4 L1864.7 776.8 L1867.1 779.2 L1869.6 781.6 L1872.0 783.9 L1874.5 786.2 L1876.9 788.5 L1879.4 790.7 L1881.8 792.9 L1884.3 795.1 L1886.8 797.3 L1889.2 799.4 L1891.7 801.5 L1894.1 803.5 L1896.6 805.6 L1899.0 807.6 L1901.5 809.6 L1903.9 811.5 L1906.4 813.5 L1908.9 815.4 L1911.3 817.2 L1913.8 819.1 L1916.2 820.9 L1918.7 822.7" stroke="#FF0000" stroke-width="8" fill="none" stroke-linejoin="round" stroke-linecap="round"/>
<path d="M938.5 140.6 L946.7 140.6 L955.0 140.6 L963.2 140.6 L971.4 140.6 L979.7 140.7 L987.9 140.7 L996.1 140.8 L1004.4 140.9 L1012.6 140.9 L1020.8 141.0 L1029.1 141.1 L1037.3 141.2 L1045.5 141.3 L1053.8 141.4 L1062.0 141.6 L1070.3 141.7 L1078.5 141.8 L1086.7 142.0 L1095.0 142.1 L1103.2 142.3 L1111.4 142.5 L1119.7 142.7 L1127.9 142.9 L1136.1 143.1 L1144.4 143.3 L1152.6 143.5 L1160.8 143.7 L1169.1 143.9 L1177.3 144.2 L1185.5 144.4 L1193.8 144.7 L1202.0 145.0 L1210.2 145.2 L1218.5 145.5 L1226.7 145.8 L1234.9 146.1 L1243.2 146.4 L1251.4 146.7 L1259.6 147.0 L1267.9 147.4 L1276.1 147.7 L1284.3 148.1 L1292.6 148.4 L1300.8 148.8 L1309.1 149.1 L1317.3 149.5 L1325.5 149.9 L1333.8 150.3 L1342.0 150.7 L1350.2 151.1 L1358.5 151.5 L1366.7 152.0 L1374.9 152.4 L1383.2 152.9 L1391.4 153.3 L1399.6 153.8 L1407.9 154.2 L1416.1 154.7 L1424.3 155.2 L1432.6 155.7 L1440.8 156.2 L1449.0 156.7 L1457.3 157.2 L1465.5 157.8 L1473.7 158.3 L1482.0 158.8 L1490.2 159.4 L1498.4 160.0 L1506.7 160.5 L1514.9 161.1 L1523.1 161.7 L1531.4 162.3 L1539.6 162.9 L1547.8 163.5 L1556.1 164.1 L1564.3 164.7 L1572.6 165.4 L1580.8 166.0 L1589.0 166.7 L1597.3 167.3 L1605.5 168.0 L1613.7 168.7 L1622.0 169.4 L1630.2 170.0 L1638.4 170.7 L1646.7 171.5 L1654.9 172.2 L1663.1 172.9 L1671.4 173.6 L1679.6 174.4 L1687.8 175.1 L1696.1 175.9 L1704.3 176.6 L1712.5 177.4 L1720.8 178.2 L1729.0 179.0 L1737.2 179.8 L1745.5 180.6 L1753.7 181.4 L1761.9 182.2 L1770.2 183.1 L1778.4 183.9 L1786.6 184.8 L1794.9 185.6 L1803.1 186.5 L1811.4 187.3 L1819.6 188.2 L1827.8 189.1 L1836.1 190.0 L1844.3 190.9 L1852.5 191.8 L1860.8 192.8 L1869.0 193.7 L1877.2 194.6 L1885.5 195.6 L1893.7 196.5 L1901.9 197.5 L1910.2 198.5 L1918.4 199.4" stroke="#0000FF" stroke-width="8" fill="none" stroke-linejoin="round" stroke-linecap="round"/>
<path d="M938.9 147.8 L941.3 148.2 L943.8 148.6 L946.3 149.0 L948.7 149.4 L951.2 149.8 L953.6 150.3 L956.1 150.7 L958.5 151.1 L961.0 151.6 L963.4 152.0 L965.9 152.5 L968.4 152.9 L970.8 153.4 L973.3 153.8 L975.7 154.3 L978.2 154.8 L980.6 155.3 L983.1 155.8 L985.5 156.2 L988.0 156.7 L990.5 157.2 L992.9 157.8 L995.4 158.3 L997.8 158.8 L1000.3 159.3 L1002.7 159.8 L1005.2 160.4 L1007.6 160.9 L1010.1 161.5 L1012.6 162.0 L1015.0 162.6 L1017.5 163.2 L1019.9 163.7 L1022.4 164.3 L1024.8 164.9 L1027.3 165.5 L1029.7 166.1 L1032.2 166.7 L1034.7 167.3 L1037.1 168.0 L1039.6 168.6 L1042.0 169.2 L1044.5 169.9 L1046.9 170.5 L1049.4 171.2 L1051.8 171.8 L1054.3 172.5 L1056.8 173.2 L1059.2 173.9 L1061.7 174.6 L1064.1 175.3 L1066.6 176.0 L1069.0 176.7 L1071.5 177.4 L1073.9 178.2 L1076.4 178.9 L1078.9 179.6 L1081.3 180.4 L1083.8 181.2 L1086.2 181.9 L1088.7 182.7 L1091.1 183.5 L1093.6 184.3 L1096.0 185.1 L1098.5 185.9 L1101.0 186.7 L1103.4 187.6 L1105.9 188.4 L1108.3 189.3 L1110.8 190.1 L1113.2 191.0 L1115.7 191.8 L1118.1 192.7 L1120.6 193.6 L1123.1 194.5 L1125.5 195.4 L1128.0 196.3 L1130.4 197.3 L1132.9 198.2 L1135.3 199.1 L1137.8 200.1 L1140.2 201.1 L1142.7 202.0 L1145.2 203.0 L1147.6 204.0 L1150.1 205.0 L1152.5 206.0 L1155.0 207.0 L1157.4 208.1 L1159.9 209.1 L1162.3 210.2 L1164.8 211.2 L1167.3 212.3 L1169.7 213.4 L1172.2 214.5 L1174.6 215.6 L1177.1 216.7 L1179.5 217.8 L1182.0 218.9 L1184.4 220.1 L1186.9 221.2 L1189.4 222.4 L1191.8 223.5 L1194.3 224.7 L1196.7 225.9 L1199.2 227.1 L1201.6 228.3 L1204.1 229.5 L1206.5 230.8 L1209.0 232.0 L1211.5 233.3 L1213.9 234.5 L1216.4 235.8 L1218.8 237.1 L1221.3 238.4 L1223.7 239.7 L1226.2 241.0 L1228.6 242.4 L1231.1 243.7 L1233.6 245.1 L1236.0 246.4 L1238.5 247.8 L1240.9 249.2 L1243.4 250.6 L1245.8 252.0 L1248.3 253.4 L1250.7 254.8 L1253.2 256.3 L1255.7 257.7 L1258.1 259.2 L1260.6 260.7 L1263.0 262.1 L1265.5 263.6 L1267.9 265.1 L1270.4 266.7 L1272.9 268.2 L1275.3 269.7 L1277.8 271.3 L1280.2 272.8 L1282.7 274.4 L1285.1 276.0 L1287.6 277.6 L1290.0 279.2 L1292.5 280.8 L1295.0 282.4 L1297.4 284.1 L1299.9 285.7 L1302.3 287.4 L1304.8 289.0 L1307.2 290.7 L1309.7 292.4 L1312.1 294.1 L1314.6 295.8 L1317.1 297.5 L1319.5 299.3 L1322.0 301.0 L1324.4 302.7 L1326.9 304.5 L1329.3 306.3 L1331.8 308.1 L1334.2 309.9 L1336.7 311.7 L1339.2 313.5 L1341.6 315.3 L1344.1 317.1 L1346.5 319.0 L1349.0 320.8 L1351.4 322.7 L1353.9 324.5 L1356.3 326.4 L1358.8 328.3 L1361.3 330.2 L1363.7 332.1 L1366.2 334.0 L1368.6 336.0 L1371.1 337.9 L1373.5 339.8 L1376.0 341.8 L1378.4 343.7 L1380.9 345.7 L1383.4 347.7 L1385.8 349.7 L1388.3 351.7 L1390.7 353.7 L1393.2 355.7 L1395.6 357.7 L1398.1 359.7 L1400.5 361.7 L1403.0 363.8 L1405.5 365.8 L1407.9 367.9 L1410.4 369.9 L1412.8 372.0 L1415.3 374.1 L1417.7 376.1 L1420.2 378.2 L1422.6 380.3 L1425.1 382.4 L1427.6 384.5 L1430.0 386.6 L1432.5 388.7 L1434.9 390.9 L1437.4 393.0 L1439.8 395.1 L1442.3 397.2 L1444.7 399.4 L1447.2 401.5 L1449.7 403.7 L1452.1 405.8 L1454.6 408.0 L1457.0 410.1 L1459.5 412.3 L1461.9 414.5 L1464.4 416.6 L1466.8 418.8 L1469.3 421.0 L1471.8 423.2 L1474.2 425.3 L1476.7 427.5 L1479.1 429.7 L1481.6 431.9 L1484.0 434.1 L1486.5 436.3 L1488.9 438.5 L1491.4 440.7 L1493.9 442.9 L1496.3 445.1 L1498.8 447.3 L1501.2 449.5 L1503.7 451.7 L1506.1 453.9 L1508.6 456.1 L1511.0 458.3 L1513.5 460.5 L1516.0 462.7 L1518.4 464.9 L1520.9 467.1 L1523.3 469.3 L1525.8 471.5 L1528.2 473.7 L1530.7 475.9 L1533.1 478.1 L1535.6 480.2 L1538.1 482.4 L1540.5 484.6 L1543.0 486.8 L1545.4 489.0 L1547.9 491.2 L1550.3 493.3 L1552.8 495.5 L1555.2 497.7 L1557.7 499.8 L1560.2 502.0 L1562.6 504.2 L1565.1 506.3 L1567.5 508.5 L1570.0 510.6 L1572.4 512.7 L1574.9 514.9 L1577.3 517.0 L1579.8 519.1 L1582.3 521.2 L1584.7 523.4 L1587.2 525.5 L1589.6 527.6 L1592.1 529.7 L1594.5 531.8 L1597.0 533.9 L1599.5 535.9 L1601.9 538.0 L1604.4 540.1 L1606.8 542.1 L1609.3 544.2 L1611.7 546.2 L1614.2 548.3 L1616.6 550.3 L1619.1 552.3 L1621.6 554.3 L1624.0 556.4 L1626.5 558.4 L1628.9 560.4 L1631.4 562.3 L1633.8 564.3 L1636.3 566.3 L1638.7 568.3 L1641.2 570.2 L1643.7 572.1 L1646.1 574.1 L1648.6 576.0 L1651.0 577.9 L1653.5 579.8 L1655.9 581.7 L1658.4 583.6 L1660.8 585.5 L1663.3 587.4 L1665.8 589.2 L1668.2 591.1 L1670.7 592.9 L1673.1 594.8 L1675.6 596.6 L1678.0 598.4 L1680.5 600.2 L1682.9 602.0 L1685.4 603.8 L1687.9 605.6 L1690.3 607.3 L1692.8 609.1 L1695.2 610.8 L1697.7 612.6 L1700.1 614.3 L1702.6 616.0 L1705.0 617.7 L1707.5 619.4 L1710.0 621.1 L1712.4 622.8 L1714.9 624.4 L1717.3 626.1 L1719.8 627.7 L1722.2 629.3 L1724.7 631.0 L1727.1 632.6 L1729.6 634.2 L1732.1 635.8 L1734.5 637.3 L1737.0 638.9 L1739.4 640.4 L1741.9 642.0 L1744.3 643.5 L1746.8 645.0 L1749.2 646.5 L1751.7 648.0 L1754.2 649.5 L1756.6 651.0 L1759.1 652.5 L1761.5 653.9 L1764.0 655.4 L1766.4 656.8 L1768.9 658.2 L1771.3 659.6 L1773.8 661.0 L1776.3 662.4 L1778.7 663.8 L1781.2 665.2 L1783.6 666.5 L1786.1 667.9 L1788.5 669.2 L1791.0 670.5 L1793.4 671.8 L1795.9 673.1 L1798.4 674.4 L1800.8 675.7 L1803.3 677.0 L1805.7 678.2 L1808.2 679.5 L1810.6 680.7 L1813.1 681.9 L1815.5 683.2 L1818.0 684.4 L1820.5 685.6 L1822.9 686.7 L1825.4 687.9 L1827.8 689.1 L1830.3 690.2 L1832.7 691.4 L1835.2 692.5 L1837.6 693.6 L1840.1 694.7 L1842.6 695.8 L1845.0 696.9 L1847.5 698.0 L1849.9 699.1 L1852.4 700.2 L1854.8 701.2 L1857.3 702.3 L1859.7 703.3 L1862.2 704.3 L1864.7 705.3 L1867.1 706.3 L1869.6 707.3 L1872.0 708.3 L1874.5 709.3 L1876.9 710.2 L1879.4 711.2 L1881.8 712.1 L1884.3 713.1 L1886.8 714.0 L1889.2 714.9 L1891.7 715.8 L1894.1 716.7 L1896.6 717.6 L1899.0 718.5 L1901.5 719.4 L1903.9 720.3 L1906.4 721.1 L1908.9 722.0 L1911.3 722.8 L1913.8 723.6 L1916.2 724.5 L1918.7 725.3" stroke="#008000" stroke-width="8" fill="none" stroke-linejoin="round" stroke-linecap="round"/>
<text transform="translate(695.5 230.6) scale(1.045 1)" fill="#800000" font-size="80.0" letter-spacing="2.5" font-weight="bold">*</text>
<text transform="translate(923.7 481.5) scale(1.045 1)" fill="#800000" font-size="80.0" letter-spacing="2.5" font-weight="bold">**</text>
<text transform="translate(1013.7 644.0) scale(1.045 1)" fill="#800000" font-size="80.0" letter-spacing="2.5" font-weight="bold">**</text>
<text transform="translate(1115.3 890.6) scale(1.045 1)" fill="#800000" font-size="80.0" letter-spacing="2.5" font-weight="bold">**</text>
<text transform="translate(1234.1 1111.3) scale(1.045 1)" fill="#800000" font-size="80.0" letter-spacing="2.5" font-weight="bold">**</text>
<text transform="translate(1362.2 1309.7) scale(1.045 1)" fill="#800000" font-size="80.0" letter-spacing="2.5" font-weight="bold">**</text>
<text transform="translate(1488.7 1381.0) scale(1.045 1)" fill="#800000" font-size="80.0" letter-spacing="2.5" font-weight="bold">**</text>
<text transform="translate(1657.5 1428.0) scale(1.045 1)" fill="#800000" font-size="80.0" letter-spacing="2.5" font-weight="bold">**</text>
<text transform="translate(1783.7 1433.0) scale(1.045 1)" fill="#800000" font-size="80.0" letter-spacing="2.5" font-weight="bold">**</text>
<text transform="translate(1251.7 359.0) scale(1.045 1)" fill="#008000" font-size="80.0" letter-spacing="2.5" font-weight="bold">*</text>
<text transform="translate(1445.4 503.3) scale(1.045 1)" fill="#008000" font-size="80.0" letter-spacing="2.5" font-weight="bold">*</text>
<text transform="translate(1559.0 648.1) scale(1.045 1)" fill="#008000" font-size="80.0" letter-spacing="2.5" font-weight="bold">**</text>
<text transform="translate(1659.6 488.0) scale(1.045 1)" fill="#008000" font-size="80.0" letter-spacing="2.5" font-weight="bold">**</text>
<text transform="translate(1786.9 598.0) scale(1.045 1)" fill="#008000" font-size="80.0" letter-spacing="2.5" font-weight="bold">**</text>
<text transform="translate(1890.7 595.4) scale(1.045 1)" fill="#008000" font-size="80.0" letter-spacing="2.5" font-weight="bold">**</text>
<text transform="translate(1833.7 926.3) scale(1.045 1)" fill="#008000" font-size="80.0" letter-spacing="2.5" font-weight="bold">**</text>
<text transform="translate(1572.2 385.0) scale(1.045 1)" fill="#FF0000" font-size="80.0" letter-spacing="2.5" font-weight="bold">**</text>
<text transform="translate(1659.6 446.8) scale(1.045 1)" fill="#FF0000" font-size="80.0" letter-spacing="2.5" font-weight="bold">**</text>
<text transform="translate(1788.6 559.7) scale(1.045 1)" fill="#FF0000" font-size="80.0" letter-spacing="2.5" font-weight="bold">**</text>
<text transform="translate(1889.0 555.0) scale(1.045 1)" fill="#FF0000" font-size="80.0" letter-spacing="2.5" font-weight="bold">**</text>
<text transform="translate(1834.5 892.3) scale(1.045 1)" fill="#FF0000" font-size="80.0" letter-spacing="2.5" font-weight="bold">**</text>
<text transform="translate(1570.8 346.6) scale(1.045 1)" fill="#000000" font-size="80.0" letter-spacing="2.5" font-weight="bold">**</text>
<text transform="translate(1666.6 838.6) scale(1.045 1)" fill="#000000" font-size="80.0" letter-spacing="2.5" font-weight="bold">**</text>
<text transform="translate(1786.1 1051.2) scale(1.045 1)" fill="#000000" font-size="80.0" letter-spacing="2.5" font-weight="bold">**</text>
<text transform="translate(1832.0 1152.3) scale(1.045 1)" fill="#000000" font-size="80.0" letter-spacing="2.5" font-weight="bold">**</text>
<text transform="translate(1892.4 1200.0) scale(1.045 1)" fill="#000000" font-size="80.0" letter-spacing="2.5" font-weight="bold">**</text>
<path d="M512.0 849.8L535.0 872.8L512.0 895.8L489.0 872.8Z" fill="#800000"/>
<text x="603.7" y="893.3" font-size="77" font-weight="bold">CYP1A2</text>
<rect x="495.5" y="953.1" width="33.0" height="33.0" fill="#000000"/>
<text x="607.2" y="990.5" font-size="77" font-weight="bold">CYP2C9</text>
<circle cx="512.0" cy="1066.6" r="18.3" fill="#FF0000"/>
<text x="607.2" y="1088.5" font-size="77" font-weight="bold">CYP2C19</text>
<path d="M512.0 1138.0L534.3 1177.0L489.7 1177.0Z" fill="#0000FF"/>
<text x="607.2" y="1185.3" font-size="77" font-weight="bold">CYP2D6</text>
<path d="M512.0 1286.6L534.3 1247.6L489.7 1247.6Z" fill="#008000"/>
<text x="607.2" y="1282.3" font-size="77" font-weight="bold">CYP3A4</text>
</svg></body></html>
